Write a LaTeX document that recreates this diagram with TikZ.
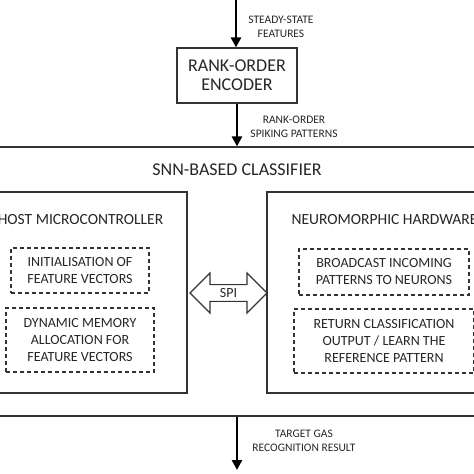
\documentclass[tikz,border=0pt]{standalone}
\usepackage{fontspec}
\setmainfont{Carlito}
\usetikzlibrary{arrows.meta,shapes.arrows}

\begin{document}
\begin{tikzpicture}[x=1pt,y=-1pt,
  box/.style={draw,line width=1.2pt,black!80},
  dashbox/.style={draw,dash pattern=on 4pt off 3pt,line width=1.1pt,black!80,text=black!85,align=center,font=\fontsize{14}{17}\selectfont},
  big/.style={font=\fontsize{18}{19}\selectfont,text=black!85,align=center},
  title/.style={font=\fontsize{15.5}{19}\selectfont,text=black!85},
  small/.style={font=\fontsize{11.5}{14}\selectfont,text=black!85,align=center},
  flow/.style={line width=2.6pt,black,-{Triangle[width=10pt,length=10pt]}}]
\clip (0,0) rectangle (474,474);
\node [box,big,minimum width=120pt,minimum height=55pt] (encoder) at (237,75.5) {RANK-ORDER\\ENCODER};
\node [box,minimum width=540pt,minimum height=269pt] (classifier) at (237,281.5) {};
\node [big] (snn) at (237,170) {SNN-BASED CLASSIFIER};
% the two blocks
\node [box,minimum width=214pt,minimum height=201pt] (host) at (80,292.5) {};
\node [box,minimum width=234pt,minimum height=201pt] (neuro) at (384,292.5) {};
\node [title] (hosttitle) at (80.5,220) {HOST MICROCONTROLLER};
\node [title] (neurotitle) at (384.5,220) {NEUROMORPHIC HARDWARE};
\node [dashbox,minimum width=138pt,minimum height=45pt] (init) at (80,270.5) {INITIALISATION OF\\FEATURE VECTORS};
\node [dashbox,minimum width=148pt,minimum height=64pt] (alloc) at (80,340) {DYNAMIC MEMORY\\ALLOCATION FOR\\FEATURE VECTORS};
\node [dashbox,minimum width=170pt,minimum height=46pt] (broadcast) at (384,272) {BROADCAST INCOMING\\PATTERNS TO NEURONS};
\node [dashbox,minimum width=180pt,minimum height=64pt] (return) at (384,341) {RETURN CLASSIFICATION\\OUTPUT / LEARN THE\\REFERENCE PATTERN};
\node [draw,line width=1.2pt,black!80,text=black!85,double arrow,double arrow head extend=10pt,
  minimum height=77pt,minimum width=40pt,inner sep=2pt,font=\fontsize{14}{17}\selectfont] (spi) at (228.5,293) {SPI};
% flow in and out
\coordinate (features) at (236,0);
\coordinate (result) at (237,470);
\draw [flow] (features) -- (encoder.north -| features);
\draw [flow] (encoder.south) -- (encoder.south |- classifier.north);
\draw [flow] (classifier.south) -- (result);
\node [small] (featlabel) at (281,27) {STEADY-STATE\\FEATURES};
\node [small] (spikelabel) at (294,127) {RANK-ORDER\\SPIKING PATTERNS};
\node [small] (resultlabel) at (304,441) {TARGET GAS\\RECOGNITION RESULT};
\end{tikzpicture}
\end{document}
